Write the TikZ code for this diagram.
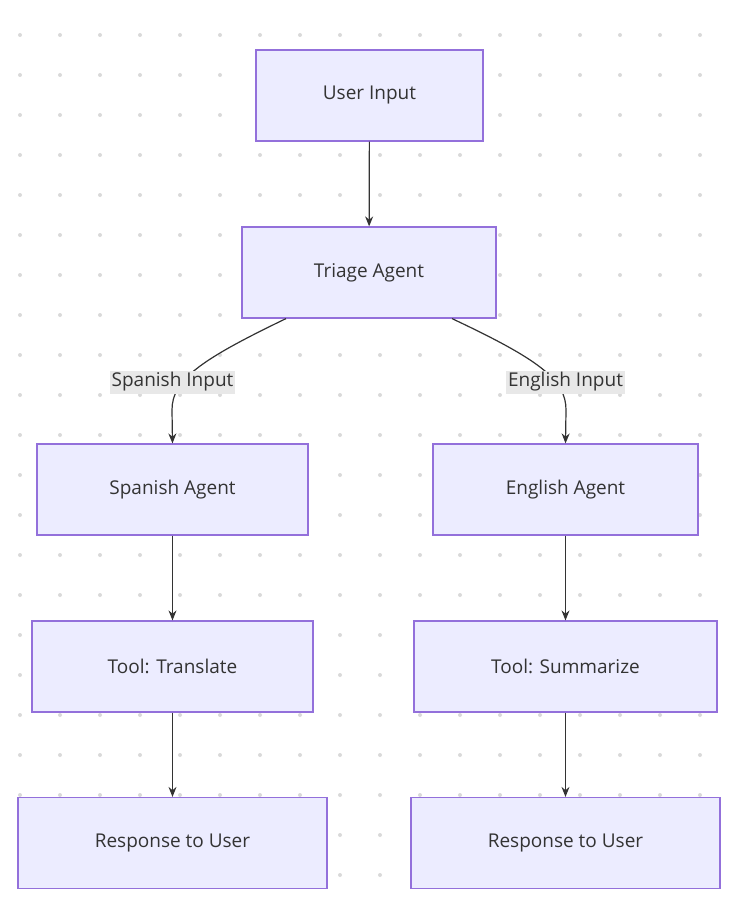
\documentclass[tikz,border=0pt]{standalone}
\usepackage{fontspec}
\setmainfont{Open Sans}
\usetikzlibrary{arrows.meta}
\definecolor{boxfill}{HTML}{ECECFF}
\definecolor{boxline}{HTML}{9370DB}
\definecolor{edgecol}{HTML}{333333}
\definecolor{lblfill}{HTML}{E8E8E8}
\begin{document}
\begin{tikzpicture}[x=1pt,y=-1pt]
	\tikzstyle{agent} = [rectangle,draw=boxline,fill=boxfill,line width=1.2pt,minimum height=91pt,font=\fontsize{19}{22}\selectfont,text=edgecol]
	\tikzstyle{flow} = [-{Stealth[length=10pt,width=8pt]},draw=edgecol,line width=1.2pt]
	\tikzstyle{lbl} = [fill=lblfill,inner sep=2pt,font=\fontsize{19}{22}\selectfont,text=edgecol]
	\useasboundingbox (0,0) rectangle (734,904);
	% dotted background
	\foreach \i in {0,...,18}
		\foreach \j in {0,...,22}
			\fill[black!15] (20+40*\i,35+40*\j) circle (2pt);
	
	\node[agent,minimum width=227pt](user) at (369.5,95.5){User Input};
	\node[agent,minimum width=254pt](triage) at (369,272.5){Triage Agent};
	\node[agent,minimum width=271pt](spa) at (172.5,489.5){Spanish Agent};
	\node[agent,minimum width=265pt](eng) at (565.5,489.5){English Agent};
	\node[agent,minimum width=281pt](trans) at (172.5,666.5){Tool: Translate};
	\node[agent,minimum width=303pt](summ) at (565.5,666.5){Tool: Summarize};
	\node[agent,minimum width=309pt](resp1) at (172.5,843){Response to User};
	\node[agent,minimum width=309pt](resp2) at (565.5,843){Response to User};
	
	\draw[flow](user) -- (triage);
	\draw[flow](triage.south) ++(-83,0) .. controls (200,360) and (172,380) .. (172,410) -- (spa.north);
	\draw[flow](triage.south) ++(83,0) .. controls (540,360) and (566,380) .. (566,410) -- (eng.north);
	\node[lbl](spalbl) at (172.5,382){Spanish Input};
	\node[lbl](englbl) at (565.5,382){English Input};
	\draw[flow](spa) -- (trans);
	\draw[flow](trans) -- (resp1);
	\draw[flow](eng) -- (summ);
	\draw[flow](summ) -- (resp2);
\end{tikzpicture}
\end{document}
